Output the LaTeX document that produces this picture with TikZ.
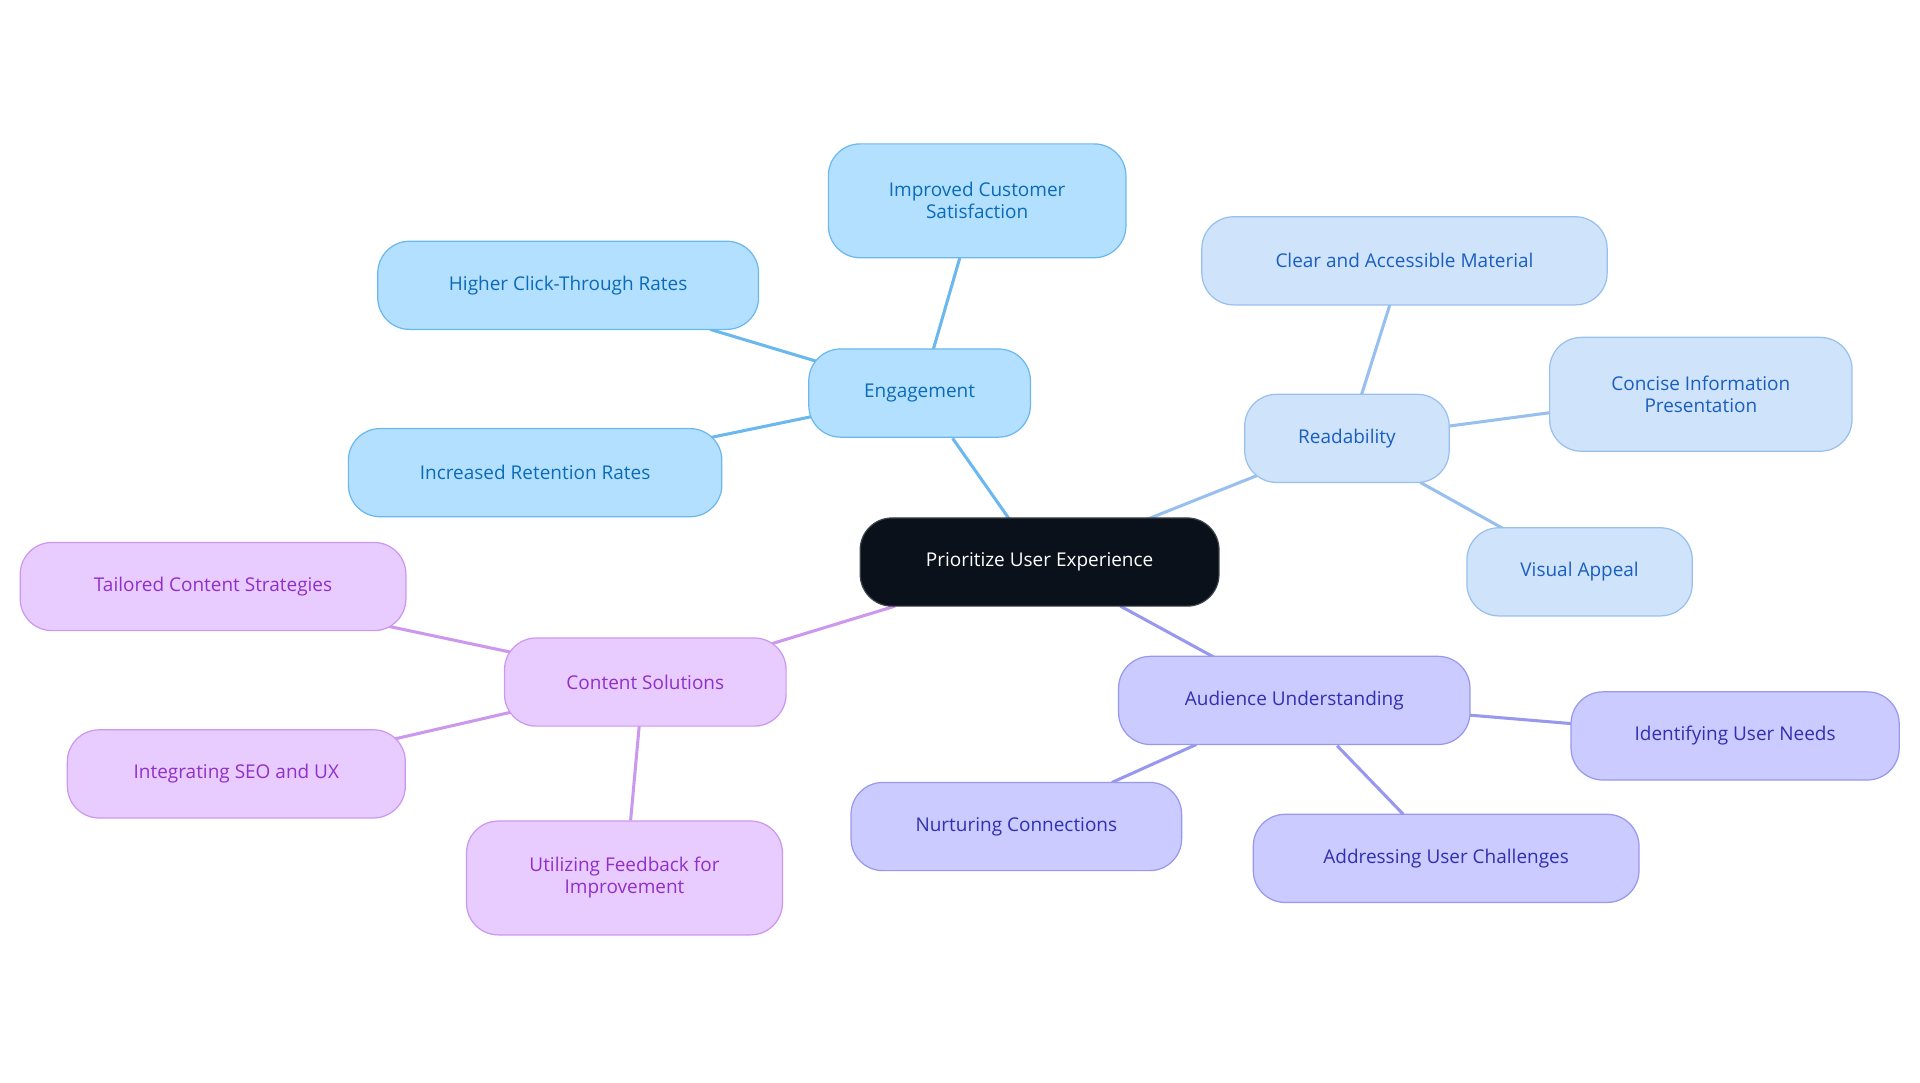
\documentclass[tikz,border=0pt]{standalone}
\usepackage{fontspec}
\setmainfont{Open Sans}
\definecolor{cF}{HTML}{0B111A}
\definecolor{eF}{HTML}{B3E0FF}\definecolor{eD}{HTML}{6BB8EE}\definecolor{eT}{HTML}{0B6BB8}
\definecolor{rF}{HTML}{CFE3FA}\definecolor{rD}{HTML}{98C0EE}\definecolor{rT}{HTML}{1A5FC0}
\definecolor{aF}{HTML}{CBCBFF}\definecolor{aD}{HTML}{9898EE}\definecolor{aT}{HTML}{3030B0}
\definecolor{sF}{HTML}{E8CBFF}\definecolor{sD}{HTML}{CC98EE}\definecolor{sT}{HTML}{9030C8}
\begin{document}
\begin{tikzpicture}[x=1pt,y=-1pt,
 n/.style={rounded corners=26pt,line width=1pt,align=center,inner sep=0pt,minimum height=72pt,font=\fontsize{15.5}{18}\selectfont},
 E/.style={n,fill=eF,draw=eD,text=eT},R/.style={n,fill=rF,draw=rD,text=rT},
 A/.style={n,fill=aF,draw=aD,text=aT},S/.style={n,fill=sF,draw=sD,text=sT},
 l/.style={line width=2.5pt}]
\useasboundingbox (0,0) rectangle (1568,884);
\begin{scope}[on background layer/.style={}]
\end{scope}
\coordinate (c0) at (849,459);
\draw[l,eD] (825,425)--(778,358);
\draw[l,eD] (762,286)--(784,210);
\draw[l,eD] (670,296)--(580,269);
\draw[l,eD] (664,340)--(577,358);
\draw[l,rD] (937,424)--(1030,387);
\draw[l,rD] (1112,322)--(1135,249);
\draw[l,rD] (1183,348)--(1266,337);
\draw[l,rD] (1160,394)--(1230,433);
\draw[l,aD] (915,495)--(992,537);
\draw[l,aD] (1200,584)--(1284,591);
\draw[l,aD] (977,608)--(908,639);
\draw[l,aD] (1092,609)--(1146,665);
\draw[l,sD] (731,495)--(626,527);
\draw[l,sD] (419,533)--(315,511);
\draw[l,sD] (420,581)--(320,604);
\draw[l,sD] (522,593)--(515,670);
\node[n,fill=cF,draw=cF!80,text=white,minimum width=293pt] (c) at (849,459) {Prioritize User Experience};
\node[E,minimum width=181pt] (e) at (751,321) {Engagement};
\node[E,minimum width=243pt,minimum height=93pt] (e1) at (798,164) {Improved Customer\\Satisfaction};
\node[E,minimum width=311pt] (e2) at (464,233) {Higher Click-Through Rates};
\node[E,minimum width=305pt] (e3) at (437,386) {Increased Retention Rates};
\node[R,minimum width=167pt] (r) at (1100,358) {Readability};
\node[R,minimum width=331pt] (r1) at (1147,213) {Clear and Accessible Material};
\node[R,minimum width=247pt,minimum height=93pt] (r2) at (1389,322) {Concise Information\\Presentation};
\node[R,minimum width=184pt] (r3) at (1290,467) {Visual Appeal};
\node[A,minimum width=287pt] (a) at (1057,572) {Audience Understanding};
\node[A,minimum width=268pt] (a1) at (1417,601) {Identifying User Needs};
\node[A,minimum width=270pt] (a2) at (830,675) {Nurturing Connections};
\node[A,minimum width=315pt] (a3) at (1181,701) {Addressing User Challenges};
\node[S,minimum width=230pt] (s) at (527,557) {Content Solutions};
\node[S,minimum width=315pt] (s1) at (174,479) {Tailored Content Strategies};
\node[S,minimum width=276pt] (s2) at (193,632) {Integrating SEO and UX};
\node[S,minimum width=258pt,minimum height=93pt] (s3) at (510,717) {Utilizing Feedback for\\Improvement};
\end{tikzpicture}
\end{document}
